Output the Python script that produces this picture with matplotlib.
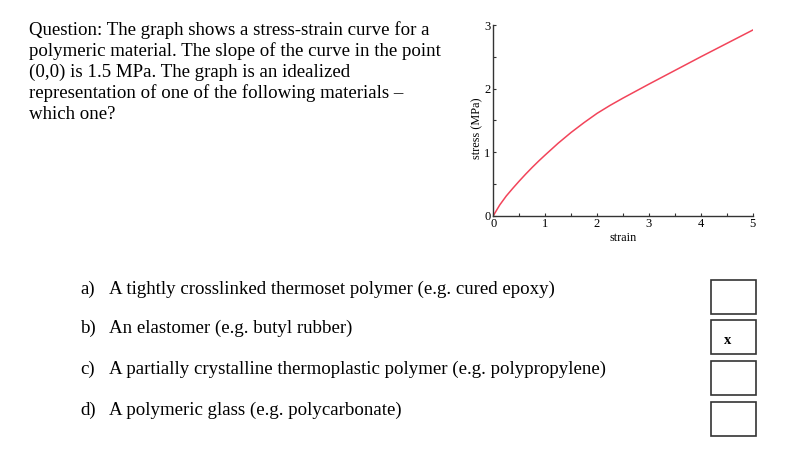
import matplotlib.pyplot as plt
from matplotlib.patches import Rectangle

W, H = 803, 462

strain = [0, 0.125, 0.25, 0.375, 0.5, 0.625, 0.75, 0.875, 1, 1.25, 1.5,
          1.75, 2, 2.25, 2.5, 2.75, 3, 3.5, 4, 4.5, 5]
stress = [0, 0.17, 0.31, 0.43, 0.545, 0.655, 0.76, 0.86, 0.955, 1.14, 1.31,
          1.465, 1.61, 1.735, 1.85, 1.96, 2.07, 2.285, 2.50, 2.71, 2.92]

question_lines = [
    "Question: The graph shows a stress-strain curve for a",
    "polymeric material. The slope of the curve in the point",
    "(0,0) is 1.5 MPa. The graph is an idealized",
    "representation of one of the following materials \u2013",
    "which one?",
]
option_keys = ["a)", "b)", "c)", "d)"]
option_texts = [
    "A tightly crosslinked thermoset polymer (e.g. cured epoxy)",
    "An elastomer (e.g. butyl rubber)",
    "A partially crystalline thermoplastic polymer (e.g. polypropylene)",
    "A polymeric glass (e.g. polycarbonate)",
]
checked = [False, True, False, False]

plt.rcParams['font.family'] = ['Liberation Serif', 'DejaVu Serif']


def fx(x):
    return x / W


def fy(y):
    return 1 - y / H


fig = plt.figure(figsize=(W / 100, H / 100), dpi=100)

# chart
ax = fig.add_axes([fx(493.3), fy(215.7), fx(752.7) - fx(493.3),
                   fy(25) - fy(215.7)])
ax.plot(strain, stress, color='#f2445a', lw=1.1)
ax.set_xlim(0, 5)
ax.set_ylim(0, 3)
ax.set_xticks(range(6))
ax.set_yticks(range(4))
ax.set_xticks([i + 0.5 for i in range(5)], minor=True)
ax.set_yticks([i + 0.5 for i in range(3)], minor=True)
ax.tick_params(which='both', direction='in', length=2.5, width=0.8,
               color='#333333', labelsize=9, pad=2)
for s in ['top', 'right']:
    ax.spines[s].set_visible(False)
for s in ['left', 'bottom']:
    ax.spines[s].set_color('#333333')
    ax.spines[s].set_linewidth(1.0)
ax.set_xlabel("strain", fontsize=8.8, labelpad=1)
ax.set_ylabel("stress (MPa)", fontsize=8.8)
ax.yaxis.set_label_coords(-0.04, 0.46)

# question text
for i, line in enumerate(question_lines):
    fig.text(fx(29), fy(35 + i * 21), line, fontsize=13.6,
             ha='left', va='baseline')

# options and boxes
opt_base = [294, 333, 374, 415]
box_tops = [279.5, 320, 361, 402]
for key, txt, yb in zip(option_keys, option_texts, opt_base):
    fig.text(fx(80), fy(yb), key, fontsize=13.6, ha='left', va='baseline')
    fig.text(fx(109.5), fy(yb), txt, fontsize=13.6, ha='left',
             va='baseline')

for top, on in zip(box_tops, checked):
    r = Rectangle((fx(711.5), fy(top + 34)), fx(45), 34 / H,
                  transform=fig.transFigure, fill=False,
                  edgecolor='#333333', lw=1.2)
    fig.add_artist(r)
    if on:
        fig.text(fx(728), fy(top + 24), "x", fontsize=10.5,
                 fontweight='bold', ha='center', va='baseline')

fig.savefig("out.png", dpi=100)
